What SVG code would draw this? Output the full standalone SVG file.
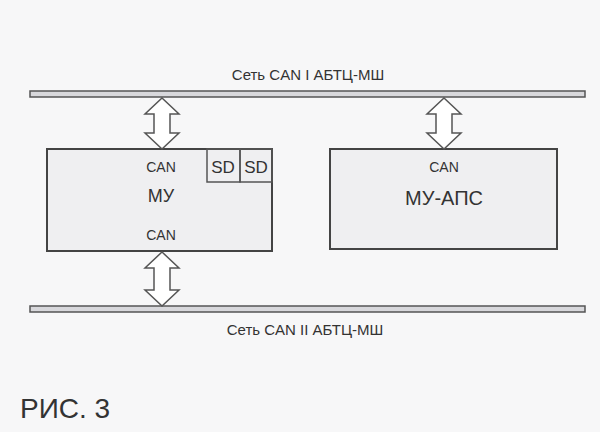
<svg xmlns="http://www.w3.org/2000/svg" width="600" height="432" viewBox="0 0 600 432">
<style>
.bus{fill:#d8d8dc;stroke:#555;stroke-width:1.5}
.box{fill:#efeff1;stroke:#444;stroke-width:2}
.arr{fill:#fff;stroke:#555;stroke-width:1.5}
text{font-family:"Liberation Sans",Arial,sans-serif;fill:#333;text-anchor:middle}
</style>
<rect width="600" height="432" fill="#f7f7f8"/>
<g id="bus1"><rect class="bus" x="30" y="91" width="555" height="6"/><text x="308" y="80" font-size="15">Сеть CAN I АБТЦ-МШ</text></g>
<g id="bus2"><rect class="bus" x="30" y="306" width="555" height="6"/><text x="305" y="335" font-size="15">Сеть CAN II АБТЦ-МШ</text></g>
<g id="mu">
<rect class="box" x="47" y="149" width="225" height="102"/>
<rect x="207" y="149" width="33" height="33" fill="none" stroke="#555" stroke-width="1.5"/>
<rect x="240" y="149" width="32" height="33" fill="none" stroke="#555" stroke-width="1.5"/>
<text x="223" y="173" font-size="17">SD</text><text x="256" y="173" font-size="17">SD</text>
<text x="161" y="172" font-size="14">CAN</text>
<text x="161" y="202" font-size="18">МУ</text>
<text x="161" y="240" font-size="14">CAN</text>
</g>
<g id="muaps">
<rect class="box" x="330" y="149" width="227" height="100"/>
<text x="444" y="172" font-size="14">CAN</text>
<text x="444" y="205" font-size="20">МУ-АПС</text>
</g>
<g id="connectors">
<path class="arr" d="M162 98 L179 114 L170 114 L170 133 L179 133 L162 149 L145 133 L154 133 L154 114 L145 114 Z"/>
<path class="arr" d="M162 252 L179 268 L170 268 L170 290 L179 290 L162 306 L145 290 L154 290 L154 268 L145 268 Z"/>
<path class="arr" d="M444 98 L461 114 L452 114 L452 133 L461 133 L444 149 L427 133 L436 133 L436 114 L427 114 Z"/>
</g>
<text x="20" y="418" font-size="28" style="text-anchor:start" fill="#555">РИС. 3</text>
</svg>
